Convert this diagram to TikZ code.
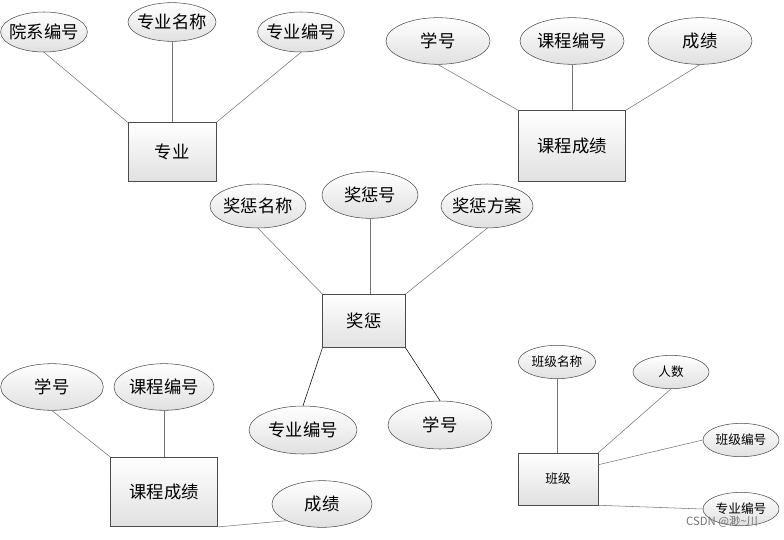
\documentclass[tikz,border=0pt]{standalone}
\usepackage{fontspec}
\usepackage{tikz}
\usetikzlibrary{shapes.geometric}
\newfontfamily\cjk{Noto Sans CJK SC}
\tikzset{
  ent/.style={draw=black!70, top color=white, bottom color=black!12, rectangle,
    inner sep=0pt, font=\cjk\fontsize{13}{15}\selectfont},
  attr/.style={draw=black!70, top color=white, bottom color=black!12, ellipse,
    inner sep=-3pt, font=\cjk\fontsize{13}{15}\selectfont},
  sm/.style={font=\cjk\fontsize{9.5}{11}\selectfont},
  link/.style={draw=black!55, thin}
}
\begin{document}
\begin{tikzpicture}[x=0.75pt, y=-0.75pt]
  \useasboundingbox (0,0) rectangle (784,539);
  % major
  \node[ent, minimum width=66pt, minimum height=44pt] (zy) at (172,152) {专业};
  \node[attr, minimum width=64pt, minimum height=30pt] (yxbh) at (44,32) {院系编号};
  \node[attr, minimum width=66pt, minimum height=29pt] (zymc) at (172,22) {专业名称};
  \node[attr, minimum width=64pt, minimum height=30pt] (zybh) at (301,32) {专业编号};
  \draw[link] (yxbh.south) -- (zy.north west);
  \draw[link] (zymc.south) -- (zy.north);
  \draw[link] (zybh.south) -- (zy.north east);
  % score, top right
  \node[ent, minimum width=80pt, minimum height=53pt] (kc1) at (572,146) {课程成绩};
  \node[attr, minimum width=78pt, minimum height=35pt] (xh1) at (438,41) {学号};
  \node[attr, minimum width=78pt, minimum height=35pt] (kcbh1) at (572,41) {课程编号};
  \node[attr, minimum width=78pt, minimum height=35pt] (cj1) at (700,41) {成绩};
  \draw[link] (xh1.south) -- (kc1.north west);
  \draw[link] (kcbh1.south) -- (kc1.north);
  \draw[link] (cj1.south) -- (kc1.north east);
  % reward
  \node[ent, minimum width=62pt, minimum height=40pt] (jc) at (364,321) {奖惩};
  \node[attr, minimum width=72pt, minimum height=33pt] (jcmc) at (258,206) {奖惩名称};
  \node[attr, minimum width=72pt, minimum height=35pt] (jch) at (370,195) {奖惩号};
  \node[attr, minimum width=69pt, minimum height=33pt] (jcfa) at (487,206) {奖惩方案};
  \node[attr, minimum width=81pt, minimum height=36pt] (zybh2) at (303,430) {专业编号};
  \node[attr, minimum width=78pt, minimum height=36pt] (xh2) at (440,425) {学号};
  \draw[link] (jcmc.south) -- (jc.north west);
  \draw[link] (jch.south) -- (jc.north -| jch.south);
  \draw[link] (jcfa.south) -- (jc.north east);
  \draw (jc.south west) -- (zybh2.north);
  \draw (jc.south east) -- (xh2.north);
  % score, bottom left
  \node[ent, minimum width=80pt, minimum height=52pt] (kc2) at (164,492) {课程成绩};
  \node[attr, minimum width=77pt, minimum height=35pt] (xh3) at (52,387) {学号};
  \node[attr, minimum width=75pt, minimum height=35pt] (kcbh3) at (164,387) {课程编号};
  \node[attr, minimum width=75pt, minimum height=35pt] (cj3) at (322,504) {成绩};
  \draw[link] (xh3.south) -- (kc2.north west);
  \draw[link] (kcbh3.south) -- (kc2.north);
  \draw[link] (kc2.south east) -- (cj3.south west);
  % class
  \node[ent, sm, minimum width=60pt, minimum height=39pt] (bj) at (558,479) {班级};
  \node[attr, sm, minimum width=58pt, minimum height=25pt] (bjmc) at (557,362) {班级名称};
  \node[attr, sm, minimum width=57pt, minimum height=25pt] (rs) at (671,372) {人数};
  \node[attr, sm, minimum width=57pt, minimum height=25pt] (bjbh) at (741,440) {班级编号};
  \node[attr, sm, minimum width=57pt, minimum height=25pt] (zybh4) at (741,509) {专业编号};
  \draw[link] (bjmc.south) -- (bj.north -| bjmc.south);
  \draw[link] (rs.south) -- (bj.north east);
  \draw[link] (bjbh.west) -- ([yshift=-9pt]bj.north east);
  \draw[link] (zybh4.west) -- (bj.south east);
  \node[text=black!55, font=\cjk\fontsize{8.5}{10}\selectfont] (wm) at (722,522) {CSDN @渺\string~川};
\end{tikzpicture}
\end{document}
